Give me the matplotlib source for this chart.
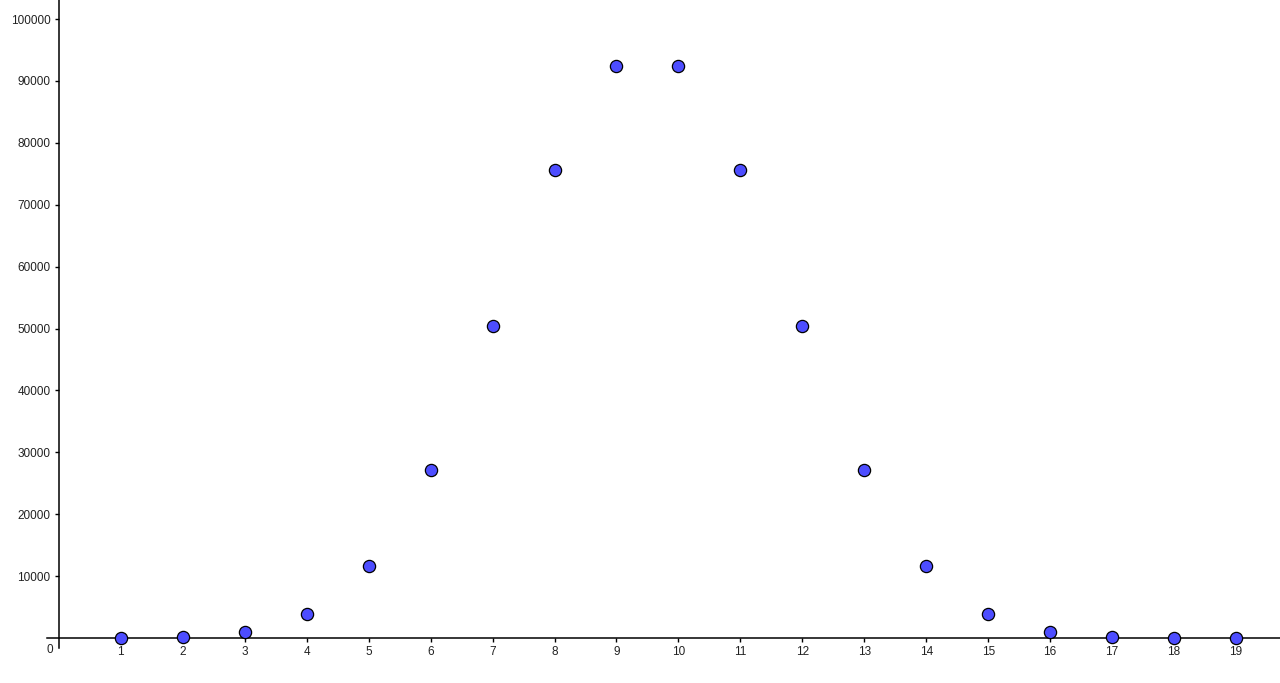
import numpy as np
import matplotlib.pyplot as plt

plt.rcParams['font.family'] = ['Liberation Sans', 'DejaVu Sans']

# points
x_vals = list(range(1, 20))
y_vals = [19, 171, 969, 3876, 11628, 27132, 50388, 75582, 92378, 92378,
          75582, 50388, 27132, 11628, 3876, 969, 171, 19, 1]
y_ticks = list(range(10000, 100001, 10000))
x_ticks = list(range(1, 20))

fig = plt.figure(figsize=(12.8, 6.83), dpi=100)
ax = fig.add_axes([0, 0, 1, 1])
ax.set_xlim(-0.95, 19.71)
ax.set_ylim(-7270, 103070)

ax.plot(x_vals, y_vals, 'o', ms=8.8, mfc='#4d4dff', mec='black', mew=0.9,
        zorder=3, clip_on=False)

for s in ['top', 'right']:
    ax.spines[s].set_visible(False)
ax.spines['left'].set_position(('data', 0))
ax.spines['bottom'].set_position(('data', 0))
ax.spines['left'].set_bounds(-1650, 103070)
ax.spines['bottom'].set_bounds(-0.19, 19.71)
ax.spines['left'].set_linewidth(1.1)
ax.spines['bottom'].set_linewidth(1.1)

ax.set_xticks(x_ticks)
ax.set_xticklabels([str(v) for v in x_ticks])
ax.set_yticks(y_ticks)
ax.set_yticklabels([str(v) for v in y_ticks])
ax.tick_params(axis='both', direction='out', length=3, width=1,
               labelsize=8.5, labelcolor='#222222', pad=3)
ax.text(-0.1, -1000, '0', ha='right', va='top', fontsize=8.5, color='#222222')

fig.savefig('out.png', dpi=100)
